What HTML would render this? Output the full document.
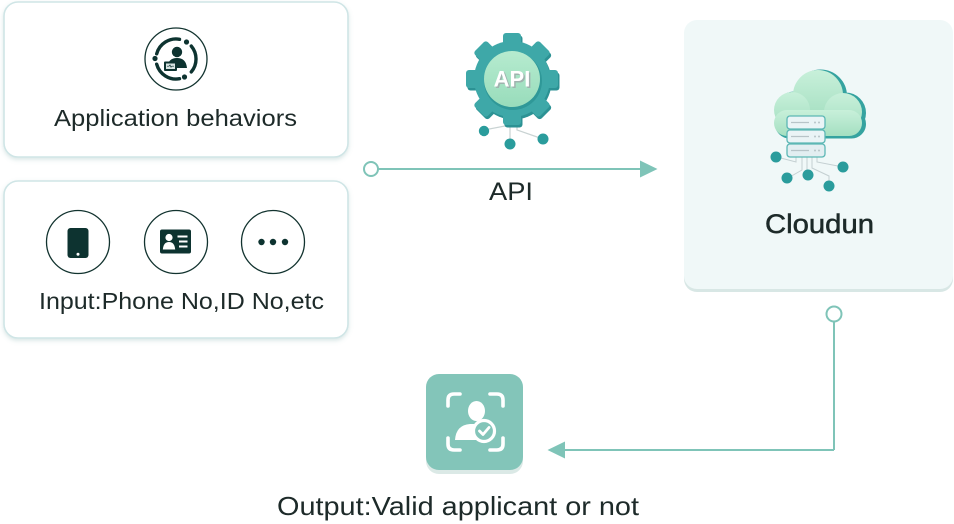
<!DOCTYPE html>
<html>
<head>
<meta charset="utf-8">
<style>
  html,body{margin:0;padding:0;background:#fff;}
  body{width:954px;height:524px;overflow:hidden;}
  svg{display:block;}
  text{font-family:"Liberation Sans", sans-serif; fill:#1d2a29;}
</style>
</head>
<body>
<svg width="954" height="524" viewBox="0 0 954 524" xmlns="http://www.w3.org/2000/svg">
  <defs>
    <filter id="sh" x="-10%" y="-10%" width="120%" height="130%">
      <feDropShadow dx="0" dy="2" stdDeviation="2" flood-color="#6a9e9c" flood-opacity="0.25"/>
    </filter>
    <linearGradient id="cg" x1="0" y1="0" x2="0" y2="1">
      <stop offset="0" stop-color="#c8f0da"/>
      <stop offset="1" stop-color="#a4dfc1"/>
    </linearGradient>
    <linearGradient id="gg" x1="0" y1="0" x2="0" y2="1">
      <stop offset="0" stop-color="#b6ebcf"/>
      <stop offset="1" stop-color="#98dcbb"/>
    </linearGradient>
  </defs>

  <!-- Box 1 -->
  <rect x="4" y="2" width="344" height="155" rx="14" fill="#fff" stroke="#cfe5e6" stroke-width="1.6" filter="url(#sh)"/>
  <circle cx="176" cy="59" r="31" fill="none" stroke="#12332f" stroke-width="1.3"/>
  <g fill="none" stroke="#0d3330" stroke-width="3.4" stroke-linecap="round">
    <path d="M156.7 53.8 A20 20 0 0 1 179.5 39.3"/>
    <path d="M191.3 46.1 A20 20 0 0 1 191.3 71.9"/>
    <path d="M179.5 78.7 A20 20 0 0 1 156.7 64.2"/>
  </g>
  <g fill="#0d3330">
    <circle cx="186.5" cy="42" r="2.6"/>
    <circle cx="155" cy="58.5" r="2.6"/>
    <circle cx="184.5" cy="77" r="2.6"/>
    <circle cx="177" cy="52" r="5.2"/>
    <path d="M167 68 Q168 58 177 58 Q186 58 187 68 Z"/>
    <rect x="164" y="61.5" width="13" height="9.5" rx="1"/>
  </g>
  <rect x="166" y="63.5" width="9" height="5.5" fill="#d8e4e3"/>
  <path d="M167 66.2 h2 l1 -1.2 l1 2.2 l1 -1 h2" fill="none" stroke="#0d3330" stroke-width="0.7"/>
  <text x="54" y="126" font-size="23" textLength="243" lengthAdjust="spacingAndGlyphs">Application behaviors</text>

  <!-- Box 2 -->
  <rect x="4" y="181" width="344" height="157" rx="14" fill="#fff" stroke="#cfe5e6" stroke-width="1.6" filter="url(#sh)"/>
  <circle cx="78" cy="242" r="31.5" fill="none" stroke="#12332f" stroke-width="1.3"/>
  <circle cx="176" cy="242" r="31.5" fill="none" stroke="#12332f" stroke-width="1.3"/>
  <circle cx="273" cy="242" r="31.5" fill="none" stroke="#12332f" stroke-width="1.3"/>
  <!-- phone -->
  <rect x="67.5" y="228" width="21" height="30" rx="3" fill="#0d3330"/>
  <circle cx="78" cy="254.3" r="1.5" fill="#fff"/>
  <!-- id card -->
  <rect x="160" y="229.5" width="31" height="24" rx="2" fill="#0d3330"/>
  <circle cx="169" cy="237.5" r="3.6" fill="#fff"/>
  <path d="M162.8 249.5 Q163.5 242 169 242 Q174.5 242 175.2 249.5 Z" fill="#fff"/>
  <g stroke="#fff" stroke-width="2">
    <line x1="177.5" y1="236.5" x2="187.5" y2="236.5"/>
    <line x1="179" y1="241.5" x2="187.5" y2="241.5"/>
    <line x1="179" y1="246.5" x2="187.5" y2="246.5"/>
  </g>
  <!-- dots -->
  <g fill="#0d3330">
    <circle cx="261.5" cy="242" r="3.2"/>
    <circle cx="273" cy="242" r="3.2"/>
    <circle cx="285" cy="242" r="3.2"/>
  </g>
  <text x="39" y="309" font-size="23" textLength="285" lengthAdjust="spacingAndGlyphs">Input:Phone No,ID No,etc</text>

  <!-- API gear -->
  <g stroke="#c9d3d3" stroke-width="1.2" fill="none">
    <path d="M505 118 V126 L484 130"/>
    <path d="M510 118 V142"/>
    <path d="M517 118 V130 L540 138"/>
  </g>
  <g fill="#2c9294" transform="translate(1.5,2.5)">
    <circle cx="512" cy="79" r="38"/>
    <rect x="503" y="33" width="18" height="14" rx="3"/>
    <rect x="503" y="33" width="18" height="14" rx="3" transform="rotate(45 512 79)"/>
    <rect x="503" y="33" width="18" height="14" rx="3" transform="rotate(90 512 79)"/>
    <rect x="503" y="33" width="18" height="14" rx="3" transform="rotate(135 512 79)"/>
    <rect x="503" y="33" width="18" height="14" rx="3" transform="rotate(180 512 79)"/>
    <rect x="503" y="33" width="18" height="14" rx="3" transform="rotate(225 512 79)"/>
    <rect x="503" y="33" width="18" height="14" rx="3" transform="rotate(270 512 79)"/>
    <rect x="503" y="33" width="18" height="14" rx="3" transform="rotate(315 512 79)"/>
  </g>
  <g fill="#3ea8a8">
    <circle cx="512" cy="79" r="38"/>
    <rect x="503" y="33" width="18" height="14" rx="3"/>
    <rect x="503" y="33" width="18" height="14" rx="3" transform="rotate(45 512 79)"/>
    <rect x="503" y="33" width="18" height="14" rx="3" transform="rotate(90 512 79)"/>
    <rect x="503" y="33" width="18" height="14" rx="3" transform="rotate(135 512 79)"/>
    <rect x="503" y="33" width="18" height="14" rx="3" transform="rotate(180 512 79)"/>
    <rect x="503" y="33" width="18" height="14" rx="3" transform="rotate(225 512 79)"/>
    <rect x="503" y="33" width="18" height="14" rx="3" transform="rotate(270 512 79)"/>
    <rect x="503" y="33" width="18" height="14" rx="3" transform="rotate(315 512 79)"/>
  </g>
  <circle cx="513" cy="81" r="29" fill="#2f9898"/>
  <circle cx="512" cy="79" r="28" fill="url(#gg)"/>
  <text x="513.5" y="88" font-size="22" font-weight="bold" text-anchor="middle" style="fill:#9fb3ae">API</text>
  <text x="512" y="86.5" font-size="22" font-weight="bold" text-anchor="middle" style="fill:#ffffff">API</text>
  <g fill="#2a9c9c">
    <circle cx="484" cy="131" r="5.2"/>
    <circle cx="510" cy="144" r="5.5"/>
    <circle cx="543" cy="139" r="5.5"/>
  </g>

  <!-- API arrow -->
  <line x1="378.5" y1="169" x2="642" y2="169" stroke="#7fc4b8" stroke-width="2"/>
  <circle cx="371" cy="169" r="7" fill="#fff" stroke="#7fc4b8" stroke-width="2"/>
  <polygon points="640,160.5 657.5,169 640,177.5" fill="#7fc4b8"/>
  <text x="489" y="200" font-size="25" textLength="44" lengthAdjust="spacingAndGlyphs">API</text>

  <!-- Cloudun box -->
  <rect x="684" y="24" width="269" height="268" rx="13" fill="#d8e7e5"/>
  <rect x="684" y="20" width="269" height="269" rx="13" fill="#f0f8f8"/>
  <!-- cloud -->
  <g fill="#35a3a0" stroke="#35a3a0" stroke-width="3" transform="translate(2.5,1)">
    <circle cx="818" cy="95" r="25"/>
    <circle cx="792" cy="110" r="18"/>
    <circle cx="843" cy="112" r="19"/>
    <rect x="774" y="110" width="88" height="26" rx="13"/>
  </g>
  <g fill="url(#cg)">
    <circle cx="818" cy="95" r="25"/>
    <circle cx="792" cy="110" r="18"/>
    <circle cx="843" cy="112" r="19"/>
    <rect x="774" y="110" width="88" height="26" rx="13"/>
  </g>
  <g stroke="#c4d0d2" stroke-width="1" fill="none">
    <path d="M796 157 V162 L777 157"/>
    <path d="M802 157 V170 L788 178"/>
    <path d="M807 157 V175"/>
    <path d="M812 157 V168 L829 176 V186"/>
    <path d="M817 157 V162 L843 167"/>
  </g>
  <g stroke="#5cb7b5" stroke-width="1.3" fill="#eaf4f6">
    <rect x="787" y="116" width="38" height="13" rx="3"/>
    <rect x="787" y="130" width="38" height="13" rx="3"/>
    <rect x="787" y="144" width="38" height="13" rx="3" fill="#e2eef1"/>
  </g>
  <g stroke="#b7c4c8" stroke-width="1.2">
    <line x1="791" y1="122.5" x2="809" y2="122.5"/>
    <line x1="791" y1="136.5" x2="809" y2="136.5"/>
    <line x1="791" y1="150.5" x2="809" y2="150.5"/>
  </g>
  <g fill="#b7c4c8">
    <circle cx="815" cy="122.5" r="1"/><circle cx="819" cy="122.5" r="1"/>
    <circle cx="815" cy="136.5" r="1"/><circle cx="819" cy="136.5" r="1"/>
    <circle cx="815" cy="150.5" r="1"/><circle cx="819" cy="150.5" r="1"/>
  </g>
  <g fill="#2a9c9c">
    <circle cx="776" cy="157" r="5.5"/>
    <circle cx="787" cy="178" r="5.5"/>
    <circle cx="808" cy="175" r="5.5"/>
    <circle cx="829" cy="186" r="5.5"/>
    <circle cx="843" cy="167" r="5.5"/>
  </g>
  <text x="765" y="233" font-size="27" textLength="109" lengthAdjust="spacingAndGlyphs" style="stroke:#1d2a29;stroke-width:0.5">Cloudun</text>

  <!-- Output connector -->
  <line x1="834" y1="321.5" x2="834" y2="450" stroke="#7fc4b8" stroke-width="2"/>
  <line x1="834" y1="450" x2="563" y2="450" stroke="#7fc4b8" stroke-width="2"/>
  <circle cx="834" cy="314" r="7.5" fill="#fff" stroke="#7fc4b8" stroke-width="2"/>
  <polygon points="565,441.5 547.5,450 565,458.5" fill="#7fc4b8"/>

  <!-- Output icon -->
  <rect x="426" y="378" width="97" height="96" rx="13" fill="#dbe9e6"/>
  <rect x="426" y="374" width="97" height="96" rx="13" fill="#83c5b9"/>
  <g fill="none" stroke="#fff" stroke-width="3.6" stroke-linecap="round">
    <path d="M448 406 V400 Q448 394 454 394 H460"/>
    <path d="M490 394 H497 Q503 394 503 400 V406"/>
    <path d="M448 438 V444 Q448 450 454 450 H460"/>
    <path d="M490 450 H497 Q503 450 503 444 V438"/>
  </g>
  <g fill="#fff">
    <ellipse cx="476.5" cy="411" rx="8.5" ry="10"/>
    <path d="M455 440 Q456 425 470 424 L488 424 Q480 432 480 440 Z"/>
  </g>
  <circle cx="484" cy="431" r="10.5" fill="#83c5b9" stroke="#fff" stroke-width="3.2"/>
  <path d="M479.5 431 L483 434.5 L489 427.5" fill="none" stroke="#fff" stroke-width="2.8" stroke-linecap="round" stroke-linejoin="round"/>
  <text x="277" y="515" font-size="26" textLength="362" lengthAdjust="spacingAndGlyphs">Output:Valid applicant or not</text>
</svg>
</body>
</html>
